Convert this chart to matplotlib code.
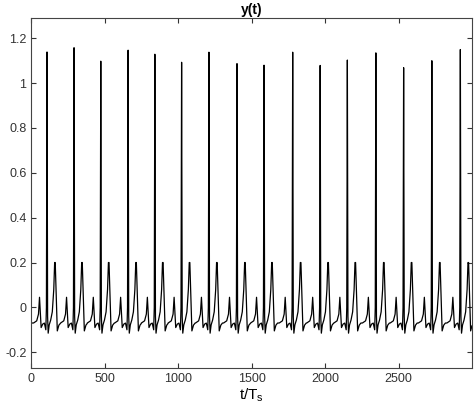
import numpy as np
import matplotlib
matplotlib.use("Agg")
import matplotlib.pyplot as plt

plt.rcParams['font.family'] = ['Liberation Sans', 'DejaVu Sans']
plt.rcParams['mathtext.fontset'] = 'custom'
plt.rcParams['mathtext.rm'] = 'Liberation Sans'

# R-peak times (samples) and heights
beat_times = [107, 291, 473, 659, 841, 1023, 1209, 1400, 1584, 1779, 1966, 2151, 2345, 2534, 2726, 2920]
beat_peaks = [1.139, 1.158, 1.098, 1.147, 1.129, 1.093, 1.138, 1.087, 1.08, 1.138, 1.079, 1.103, 1.135, 1.069, 1.10, 1.15]
# single-beat waveform knots (offset from R peak, value)
tmpl_dt = [-92, -70, -58, -51, -46, -40, -30, -18, -8, -4, 0, 4, 8, 14, 24, 36, 46, 52, 56, 63, 70, 80, 92]
tmpl_v = [-0.07, -0.06, -0.03, 0.045, -0.02, -0.09, -0.075, -0.07, -0.10, 0.0, None, -0.04, -0.115, -0.08, -0.06, -0.02, 0.08, 0.2, 0.2, 0.05, -0.105, -0.08, -0.07]
baseline = -0.07

t = np.arange(0, 3000)
y = np.full(t.shape, baseline, dtype=float)
for bt, pk in zip(beat_times, beat_peaks):
    xs = np.array(tmpl_dt) + bt
    vs = np.array([pk if v is None else v for v in tmpl_v])
    m = (t >= xs[0]) & (t <= xs[-1])
    y[m] = np.interp(t[m], xs, vs)

fig = plt.figure(figsize=(4.74, 4.12), dpi=100)
ax = fig.add_axes([0.066, 0.107, 0.93, 0.849])
ax.plot(t, y, color='black', lw=0.9)
ax.set_xlim(0, 3000)
ax.set_ylim(-0.27, 1.29)
ax.set_xticks([0, 500, 1000, 1500, 2000, 2500])
ax.set_yticks([-0.2, 0, 0.2, 0.4, 0.6, 0.8, 1.0, 1.2])
ax.set_yticklabels(['-0.2', '0', '0.2', '0.4', '0.6', '0.8', '1', '1.2'])
ax.tick_params(direction='in', top=True, right=True, labelsize=9, colors='#333333')
for s in ax.spines.values():
    s.set_color('#444444')
ax.set_title('y(t)', fontsize=10, fontweight='bold', pad=3)
ax.set_xlabel(r't/T$_\mathrm{s}$', fontsize=11, labelpad=1)
fig.savefig('out.png', dpi=100)
